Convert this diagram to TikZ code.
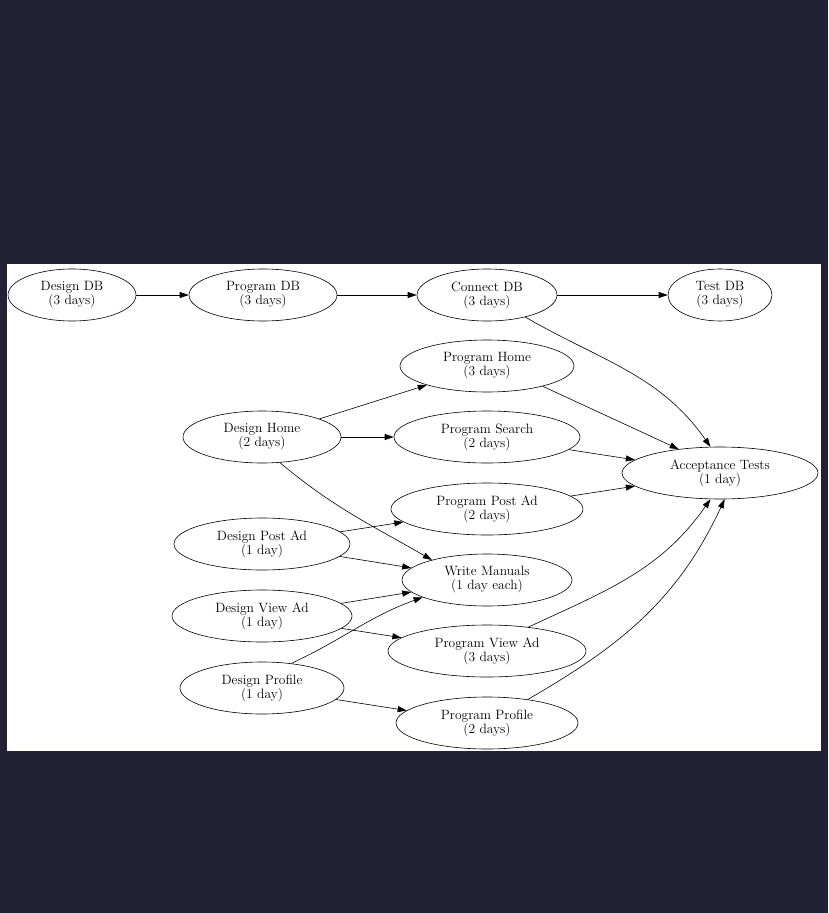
\documentclass[tikz,border=0pt]{standalone}
\usetikzlibrary{shapes.geometric,arrows.meta}
\definecolor{bgdark}{HTML}{232136}
\begin{document}
\begin{tikzpicture}[x=1pt,y=-1pt,
  task/.style={ellipse,draw,line width=0.6pt,minimum height=52pt,inner sep=0pt,align=center,font=\fontsize{13.5}{14}\selectfont},
  edge/.style={-{Triangle[length=9pt,width=6pt]},line width=0.6pt}]
\fill[bgdark] (0,0) rectangle (828,913);
\useasboundingbox (0,0) rectangle (828,913);
\fill[white] (7,264) rectangle (821,751);
\node[task,minimum width=128pt] (ddb) at (72,295) {Design DB\\(3 days)};
\node[task,minimum width=148pt] (pdb) at (263,295) {Program DB\\(3 days)};
\node[task,minimum width=140pt] (cdb) at (487,295) {Connect DB\\(3 days)};
\node[task,minimum width=104pt] (tdb) at (720,295) {Test DB\\(3 days)};
\node[task,minimum width=174pt] (ph) at (487,366) {Program Home\\(3 days)};
\node[task,minimum width=158pt] (dh) at (262,437) {Design Home\\(2 days)};
\node[task,minimum width=186pt] (ps) at (487,437) {Program Search\\(2 days)};
\node[task,minimum width=196pt] (at) at (720,473) {Acceptance Tests\\(1 day)};
\node[task,minimum width=192pt] (ppa) at (487,509) {Program Post Ad\\(2 days)};
\node[task,minimum width=176pt] (dpa) at (262,544) {Design Post Ad\\(1 day)};
\node[task,minimum width=170pt] (wm) at (487,580) {Write Manuals\\(1 day each)};
\node[task,minimum width=180pt] (dva) at (262,616) {Design View Ad\\(1 day)};
\node[task,minimum width=198pt] (pva) at (487,651) {Program View Ad\\(3 days)};
\node[task,minimum width=164pt] (dp) at (262,688) {Design Profile\\(1 day)};
\node[task,minimum width=182pt] (pp) at (487,723) {Program Profile\\(2 days)};
\draw[edge] (ddb) -- (pdb);
\draw[edge] (pdb) -- (cdb);
\draw[edge] (cdb) -- (tdb);
\draw[edge] (cdb.-30) to[out=-30,in=125] (at.110);
\draw[edge] (dh) -- (ph);
\draw[edge] (dh) -- (ps);
\draw[edge] (dh.-55) to[out=-40,in=150] (wm.160);
\draw[edge] (ph.-20) -- (at.150);
\draw[edge] (ps) -- (at);
\draw[edge] (ppa) -- (at);
\draw[edge] (dpa) -- (ppa);
\draw[edge] (dpa) -- (wm);
\draw[edge] (dva) -- (wm);
\draw[edge] (dva) -- (pva);
\draw[edge] (dp.40) to[out=25,in=200] (wm.195);
\draw[edge] (dp) -- (pp);
\draw[edge] (pva.30) to[out=25,in=-125] (at.-110);
\draw[edge] (pp.30) to[out=30,in=-115] (at.-80);
\end{tikzpicture}
\end{document}
